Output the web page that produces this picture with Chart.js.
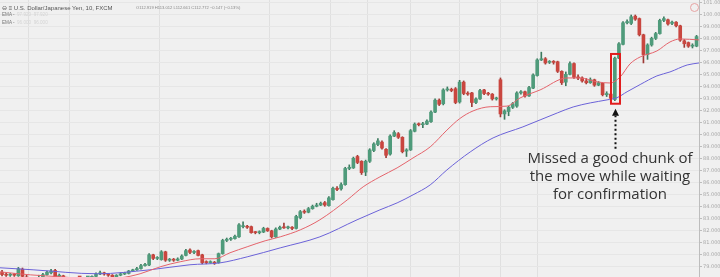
<!DOCTYPE html>
<html><head><meta charset="utf-8">
<script src="https://cdn.jsdelivr.net/npm/chart.js@4"></script>
<style>
html,body{margin:0;padding:0;background:#f0f0f0;}
#wrap{position:relative;width:720px;height:277px;overflow:hidden;background:#f0f0f0;}
#c{position:absolute;left:0;top:0;}
.hdr{position:absolute;font-family:'Liberation Sans',Arial,sans-serif;white-space:nowrap;}
#note{position:absolute;left:510px;top:148px;width:200px;text-align:center;font-family:'Open Sans',sans-serif;font-size:15px;line-height:18px;color:#333;}
#ico{position:absolute;left:690px;top:3px;width:7px;height:7px;border:1px solid #e6a3a3;border-radius:50%;}
</style></head><body>
<div id="wrap">
<canvas id="c" width="720" height="277"></canvas>
<div class="hdr" style="left:2px;top:4px;font-size:6px;color:#555;">&#8854; &#8801; U.S. Dollar/Japanese Yen, 10, FXCM</div>
<div class="hdr" style="left:136px;top:5px;font-size:4.1px;color:#888;">O112.919 H113.012 L112.661 C112.772 −0.147 (−0.13%)</div>
<div class="hdr" style="left:2px;top:12px;font-size:4.6px;color:#777;">EMA -&nbsp;&nbsp;<span style="color:#d4d4d4;">97.920&nbsp;&nbsp;97.920</span></div>
<div class="hdr" style="left:2px;top:20px;font-size:4.6px;color:#777;">EMA -&nbsp;&nbsp;<span style="color:#d4d4d4;">96.000&nbsp;&nbsp;96.000</span></div>
<div id="ico"></div>
<div id="note">Missed a good chunk of<br>the move while waiting<br>for confirmation</div>
</div>
<script>
// ---- data ----
const open = [78.55,78.35,78.30,78.35,78.25,78.80,78.15,78.00,77.90,78.00,
78.15,78.35,78.50,78.70,78.20,78.25,78.05,77.95,77.85,77.95,
77.90,78.00,78.05,78.20,78.40,78.50,78.40,78.30,78.10,78.30,
78.40,78.45,78.65,78.75,78.85,79.10,79.15,80.00,79.70,79.60,
80.25,79.55,79.60,79.55,79.65,79.95,80.40,80.20,80.35,80.00,
79.40,79.35,79.35,79.35,80.10,81.20,81.30,81.35,81.50,82.35,
82.35,82.35,81.90,81.85,81.90,82.20,82.00,81.50,82.15,82.30,
82.25,82.30,82.20,83.10,83.60,83.55,83.85,84.05,84.15,84.35,
84.10,84.60,85.55,85.50,85.85,87.20,87.25,88.20,87.80,86.90,
87.80,88.70,89.20,89.40,88.80,88.40,89.90,90.10,89.80,88.65,
88.75,90.30,90.90,90.85,90.90,91.10,91.90,92.90,92.60,93.75,
93.80,93.85,92.75,94.40,93.45,93.50,92.70,93.00,93.75,93.45,
93.40,93.00,94.60,91.75,91.95,92.30,92.40,93.50,93.60,93.25,
93.90,94.95,96.25,96.35,96.05,96.10,96.10,95.30,94.40,95.05,
95.95,94.80,94.75,94.50,94.35,94.60,94.15,94.30,93.35,93.40,
92.95,96.40,97.55,99.35,99.30,99.90,99.70,98.35,96.70,97.50,
98.05,98.45,99.55,99.60,99.30,99.40,99.10,97.85,97.70,97.40,
97.40];
const high = [78.70,78.45,78.45,78.45,78.95,78.90,78.30,78.10,78.10,78.30,
78.45,78.65,78.80,78.80,78.40,78.30,78.10,78.00,78.05,78.05,
78.10,78.15,78.25,78.50,78.65,78.55,78.45,78.35,78.35,78.50,
78.55,78.70,78.80,78.95,79.20,79.30,80.10,80.05,79.85,80.35,
80.30,79.70,79.70,79.75,80.00,80.45,80.50,80.35,80.40,80.05,
79.50,79.50,79.45,80.15,81.30,81.40,81.45,81.65,82.60,82.75,
82.45,82.40,81.95,82.00,82.30,82.25,82.05,82.25,82.40,82.65,
82.40,82.35,83.30,83.70,83.75,83.95,84.15,84.30,84.40,84.45,
84.85,85.65,85.70,86.00,87.30,87.50,88.15,88.30,87.85,87.90,
88.85,89.35,89.70,89.50,88.85,90.00,90.35,90.20,89.85,88.85,
90.45,91.00,91.00,91.05,91.25,92.00,93.00,93.00,93.85,94.00,
93.90,93.95,94.55,94.50,93.60,93.55,93.10,93.80,93.80,93.55,
93.45,93.15,94.75,92.10,92.40,92.70,93.60,93.70,93.65,94.05,
95.10,96.35,96.90,96.45,96.20,96.20,96.15,95.35,95.25,96.10,
96.00,95.00,94.85,94.70,94.75,94.65,94.45,94.35,93.60,93.50,
96.50,97.70,99.45,99.60,100.00,100.00,99.75,98.40,97.60,98.15,
98.55,99.65,99.85,99.65,99.50,99.45,99.15,97.95,97.75,97.60,
98.30];
const low = [78.25,78.20,78.20,78.20,78.20,78.10,77.90,77.80,77.80,77.90,
78.05,78.30,78.40,78.10,78.10,77.95,77.85,77.75,77.75,77.80,
77.85,77.90,77.95,78.10,78.35,78.30,78.20,78.00,78.05,78.25,
78.35,78.40,78.60,78.70,78.80,79.05,79.10,79.60,79.60,79.55,
79.45,79.45,79.45,79.50,79.60,79.90,80.10,80.10,79.90,79.25,
79.25,79.30,79.20,79.30,80.05,81.10,81.20,81.30,81.45,82.25,
82.20,81.80,81.75,81.75,81.85,81.95,81.40,81.45,82.10,82.20,
82.15,82.10,82.15,83.00,83.45,83.50,83.80,84.00,84.10,84.05,
84.05,84.55,85.35,85.40,85.80,87.10,87.20,87.60,86.70,86.60,
87.70,88.60,89.10,88.80,88.10,88.30,89.85,89.70,88.50,88.20,
88.70,90.25,90.75,90.60,90.85,91.05,91.85,92.45,92.50,93.65,
93.60,92.60,92.65,93.35,93.30,92.35,92.60,92.95,93.35,93.30,
92.90,92.90,91.50,91.30,91.60,92.20,92.30,93.40,93.15,93.20,
93.85,94.90,96.20,95.90,95.95,95.90,95.20,94.20,94.10,95.00,
94.70,94.60,94.40,94.25,94.30,94.05,94.10,93.25,93.20,92.80,
92.85,96.35,97.50,99.25,99.20,99.55,98.25,96.00,96.30,97.40,
97.95,98.40,99.45,99.15,99.20,99.00,97.80,97.30,97.30,97.25,
97.35];
const close = [78.35,78.30,78.35,78.30,78.83,78.20,78.00,77.90,78.00,78.10,
78.35,78.55,78.65,78.17,78.30,78.05,77.95,77.85,77.95,77.90,
78.00,78.05,78.20,78.42,78.50,78.40,78.30,78.10,78.30,78.42,
78.50,78.65,78.75,78.85,79.10,79.20,80.00,79.70,79.75,80.25,
79.55,79.60,79.55,79.65,79.90,80.35,80.20,80.25,79.95,79.35,
79.35,79.40,79.30,80.10,81.20,81.30,81.35,81.55,82.50,82.35,
82.30,81.85,81.85,81.90,82.20,82.00,81.50,82.15,82.30,82.25,
82.30,82.20,83.20,83.60,83.55,83.85,84.05,84.15,84.30,84.15,
84.75,85.55,85.45,85.85,87.20,87.30,88.05,87.70,86.85,87.80,
88.75,89.25,89.50,88.90,88.30,89.90,90.20,89.80,88.60,88.75,
90.35,90.90,90.85,90.90,91.15,91.90,92.90,92.55,93.75,93.80,
93.70,92.70,94.40,93.45,93.40,92.70,93.00,93.70,93.45,93.40,
93.00,93.05,91.75,92.00,92.30,92.60,93.50,93.60,93.25,93.95,
95.00,96.25,96.35,96.00,96.10,96.05,95.30,94.35,95.05,95.95,
94.80,94.75,94.50,94.35,94.60,94.15,94.35,93.35,93.45,93.05,
96.40,97.60,99.35,99.45,99.85,99.65,98.35,96.70,97.50,98.05,
98.45,99.55,99.70,99.25,99.40,99.10,97.90,97.60,97.40,97.45,
98.20];

// EMA lines, read at the candle positions listed in *At
const emaFastAt = [-0.5,6.9,14.2,21.5,28.9,33.8,38.7,43.6,48.5,52.1,55.8,60,64.4,68.1,73,77.8,84.5,88.4,92.5,96.7,100.6,104.8,108.9,112,115.3,119.5,123.6,126.8,131.7,138.3,141.5,145.7,148.8,151.3,153.7,156.2,160.3,163.5,166,170.6];
const emaFast   = [78.58,78.33,78.17,78.0,78.08,78.42,79.0,79.42,79.67,79.67,80.17,80.67,81.17,81.5,82.08,82.92,84.58,85.67,86.5,87.25,88.08,89.0,90.4,91.35,92.0,92.35,92.4,93.08,93.75,94.75,94.75,94.42,94.33,94.83,95.92,96.5,97.0,97.75,98.0,97.92];
const emaSlowAt = [-0.5,7.6,23.3,36.2,46,53.4,60,68.1,77.8,86.9,92.5,96.7,100.6,104.8,108.9,114.6,120.2,127.5,131.7,135.9,139.8,144,148.1,150.5,153,156.2,160.3,163.5,167.7,170.6];
const emaSlow   = [78.92,78.75,78.42,78.75,79.17,79.33,79.83,80.58,81.5,82.92,83.75,84.33,85.0,85.83,87.08,88.58,89.75,90.67,91.25,91.83,92.33,92.67,92.92,93.1,93.6,94.2,94.92,95.25,95.83,96.0];

const yTicks = [79,80,81,82,83,84,85,86,87,88,89,90,91,92,93,94,95,96,97,98,99,100,101];
const xGridAt = [1.5,11.5,21.5,55.5,75.5,85.5,93.5,106.5,117.5,126.5];
const highlightIndex = 150;

// ---- styles ----
const UP = '#4f9b7b', DOWN = '#c9463f', UPW = '#3c7a5f', DOWNW = '#9e3a35';
const isUp = i => close[i] >= open[i];

const annot = {
  id: 'annot',
  afterDatasetsDraw(chart) {
    const {ctx, scales:{x, y}} = chart;
    const cx = x.getPixelForValue(highlightIndex);
    const top = y.getPixelForValue(high[highlightIndex]) - 3;
    const bot = y.getPixelForValue(low[highlightIndex]) + 3;
    ctx.save();
    ctx.strokeStyle = '#e11d1d';
    ctx.lineWidth = 2;
    ctx.strokeRect(Math.round(cx) - 4, top, 9, bot - top);
    const ax = Math.round(cx) + 0.5;
    ctx.strokeStyle = '#111';
    ctx.lineWidth = 2;
    ctx.setLineDash([2, 2.5]);
    ctx.beginPath();
    ctx.moveTo(ax, bot + 45);
    ctx.lineTo(ax, bot + 12);
    ctx.stroke();
    ctx.setLineDash([]);
    ctx.fillStyle = '#111';
    ctx.beginPath();
    ctx.moveTo(ax, bot + 5);
    ctx.lineTo(ax - 3.5, bot + 12);
    ctx.lineTo(ax + 3.5, bot + 12);
    ctx.closePath();
    ctx.fill();
    ctx.restore();
  }
};

new Chart(document.getElementById('c'), {
  type: 'bar',
  data: {
    datasets: [
      { type:'line', label:'EMA fast', order:0,
        data: emaFastAt.map((v,i)=>({x:v, y:emaFast[i]})),
        borderColor:'#e4636b', borderWidth:1, pointRadius:0, cubicInterpolationMode:'monotone', fill:false },
      { type:'line', label:'EMA slow', order:0,
        data: emaSlowAt.map((v,i)=>({x:v, y:emaSlow[i]})),
        borderColor:'#6b62d8', borderWidth:1, pointRadius:0, cubicInterpolationMode:'monotone', fill:false },
      { label:'body', order:1, grouped:false,
        data: open.map((o,i)=>({x:i, y:[o, close[i]]})),
        backgroundColor: c => isUp(c.dataIndex) ? UP : DOWN,
        borderWidth: 0, barThickness: 3, minBarLength: 1, borderSkipped: false },
      { label:'wick', order:2, grouped:false,
        data: high.map((h,i)=>({x:i, y:[low[i], h]})),
        backgroundColor: c => isUp(c.dataIndex) ? UPW : DOWNW,
        borderWidth: 0, barThickness: 1, borderSkipped: false }
    ]
  },
  options: {
    responsive:false, animation:false, devicePixelRatio:1,
    layout:{padding:0},
    plugins:{legend:{display:false}, tooltip:{enabled:false}},
    scales:{
      x:{ type:'linear', min:-0.5, max:170.6, offset:false,
          afterBuildTicks: s => { s.ticks = xGridAt.map(v=>({value:v})); },
          ticks:{display:false},
          grid:{color:'#e0e0e0', drawTicks:false, lineWidth:1},
          border:{display:false},
          afterFit: s => { s.height = 0; s.paddingLeft = 0; s.paddingRight = 0; } },
      y:{ position:'right', min:78.15, max:101.25,
          afterBuildTicks: s => { s.ticks = yTicks.map(v=>({value:v})); },
          ticks:{ font:{family:'DejaVu Sans', size:5}, color:'#a8a8a8', padding:1,
                  callback: v => Number(v).toFixed(3) },
          grid:{color:'#e6e6e6', tickLength:3, tickColor:'#bdbdbd'},
          border:{display:true, color:'#bdbdbd', width:1},
          afterFit: s => { s.width = 21; s.paddingTop = 0; s.paddingBottom = 0; } }
    }
  },
  plugins:[annot]
});
</script>
</body></html>
